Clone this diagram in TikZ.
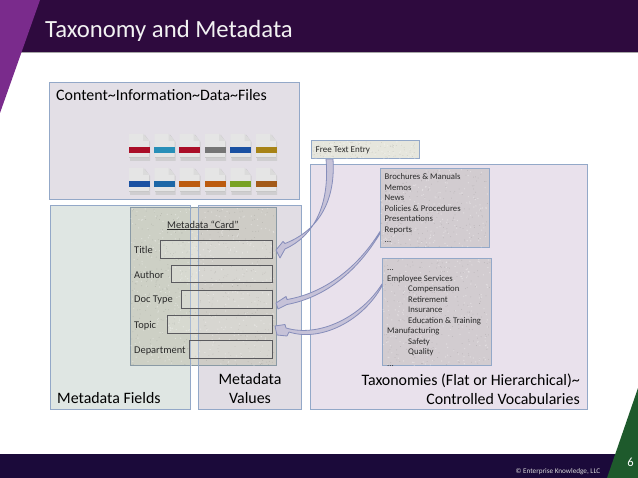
\documentclass[tikz,border=0pt]{standalone}
\usepackage{fontspec}
\setmainfont{Carlito}
\usetikzlibrary{calc}
\definecolor{barpurple}{HTML}{2E0A3E}
\definecolor{wedgepurple}{HTML}{7A2B8C}
\definecolor{barnavy}{HTML}{1B0A3A}
\definecolor{wedgegreen}{HTML}{1E5A2C}
\definecolor{edgeblue}{HTML}{93A8C8}
\definecolor{contentfill}{HTML}{E3DFE6}
\definecolor{fieldsfill}{HTML}{DFE6E3}
\definecolor{valuesfill}{HTML}{E1DDE4}
\definecolor{taxfill}{HTML}{E9E1EC}
\definecolor{cardfill}{HTML}{C2C2B2}
\definecolor{cardedge}{HTML}{8A9AA5}
\definecolor{greyfill}{HTML}{D2CCD0}
\definecolor{freefill}{HTML}{E6E6DD}
\definecolor{inputedge}{HTML}{5A5A5E}
\definecolor{arrowedge}{HTML}{868DBA}
\definecolor{arrowfill}{HTML}{C6C2D8}
\definecolor{inktext}{HTML}{2A2A2A}
\tikzset{
  panel/.style={draw=edgeblue,line width=1pt,anchor=north west,inner sep=0pt,outer sep=0pt},
  inputbox/.style={draw=inputedge,line width=1pt,fill=white,fill opacity=0.2,anchor=north west,inner sep=0pt,outer sep=0pt},
  biglabel/.style={font=\fontsize{15.9}{19}\selectfont,text=black,inner sep=0pt},
  cardlabel/.style={font=\fontsize{10.4}{12}\selectfont,text=inktext,anchor=west,inner sep=0pt},
  listtext/.style={font=\fontsize{8.7}{10.5}\selectfont,text=inktext,align=left,anchor=north west,inner sep=0pt},
  swoosh/.style={draw=arrowedge,line width=0.8pt,fill=arrowfill,line join=round}
}
\newcommand{\speckle}[5]{%
  \pgfmathsetseed{#5}%
  \foreach \i in {1,...,#4}{%
    \pgfmathsetmacro{\px}{#1+rnd*(#2-#1)}%
    \pgfmathsetmacro{\py}{#3}%
    \fill[white,opacity=0.32] (\px,\py) circle (0.7pt);
    \pgfmathsetmacro{\qx}{#1+rnd*(#2-#1)}%
    \pgfmathsetmacro{\qy}{#3}%
    \fill[black,opacity=0.1] (\qx,\qy) circle (0.5pt);
  }%
}
\newcommand{\fileicon}[3]{%
  \definecolor{filecol}{HTML}{#3}%
  \fill[black!22,opacity=0.7] ({#1+1},{#2+1}) -- ++(15,0) -- ++(5,7) -- ++(0,19) -- ++(-20,0) -- cycle;
  \fill[white!90!black] (#1,#2) -- ++(14,0) -- ++(6,7) -- ++(0,17) -- ++(-20,0) -- cycle;
  \fill[black!14] ({#1+14},#2) -- ++(0,7) -- ++(6,0) -- cycle;
  \fill[filecol!85!black] ({#1-0.5},{#2+13}) rectangle ({#1+20.5},{#2+19.5});
  \fill[black!22] (#1,{#2+23}) rectangle ({#1+20},{#2+24.5});
}
\begin{document}
\begin{tikzpicture}[x=1pt,y=-1pt]
\useasboundingbox (0,0) rectangle (638,478);
\fill[white] (0,0) rectangle (638,478);
% header
\fill[black!35] (20,52) rectangle (638,53.5);
\fill[barpurple] (0,0) rectangle (638,52);
\fill[wedgepurple] (0,0) -- (40,0) -- (0,113) -- cycle;
\node[font=\fontsize{24.7}{28}\selectfont,text=white!95!black,anchor=west,inner sep=0pt] (title) at (45,30.5) {Taxonomy and Metadata};
% footer
\fill[barnavy] (0,454) rectangle (638,478);
\fill[wedgegreen] (638,388) -- (638,478) -- (607,478) -- cycle;
\node[font=\fontsize{7.2}{8}\selectfont,text=white!85!black,anchor=east,inner sep=0pt] (copy) at (600.5,472) {© Enterprise Knowledge, LLC};
\node[font=\fontsize{12.5}{14}\selectfont,text=white,inner sep=0pt] (pageno) at (630.5,462) {6};
% panels
\node[panel,fill=contentfill,minimum width=250pt,minimum height=117pt] (content) at (49.5,83) {};
\node[biglabel,anchor=west] (contentlabel) at (56,95.5) {Content\char`\~Information\char`\~Data\char`\~Files};
\foreach \x/\c in {129/C8102E,154.5/2FA8D8,179.5/C8102E,205/8A8A8A,230.5/1F5FBF,256/C49A1A}{\fileicon{\x}{134}{\c}}
\foreach \x/\c in {129/1F5FBF,154.5/2279C4,179.5/DD6B12,205/DD6B12,230.5/8DBF2A,256/C06A1E}{\fileicon{\x}{168}{\c}}
\node[panel,fill=fieldsfill,minimum width=140pt,minimum height=204pt] (fields) at (50,206) {};
\node[panel,fill=valuesfill,minimum width=103pt,minimum height=204pt] (values) at (198,206) {};
\node[panel,fill=taxfill,minimum width=277pt,minimum height=245pt] (tax) at (310,165) {};
% card
\node[panel,draw=cardedge,fill=cardfill,fill opacity=0.6,minimum width=146pt,minimum height=158pt] (card) at (130,208) {};
\speckle{131}{275}{208.5+rnd*157}{420}{11}
\draw[edgeblue,line width=0.9pt] (fields.north east) -- (fields.south east);
\draw[edgeblue,line width=0.9pt] (values.north west) -- (values.south west);
\node[font=\fontsize{10.4}{12}\selectfont,text=inktext,inner sep=0pt] (cardtitle) at (203,225.5) {\underline{Metadata “Card”}};
\node[cardlabel] (ltitle) at (134,250) {Title};
\node[cardlabel] (lauthor) at (134,275) {Author};
\node[cardlabel] (ldoc) at (134,300) {Doc Type};
\node[cardlabel] (ltopic) at (134,325.5) {Topic};
\node[cardlabel] (ldept) at (134,351) {Department};
\node[inputbox,minimum width=112pt,minimum height=17.5pt] (ititle) at (160,241) {};
\node[inputbox,minimum width=101pt,minimum height=17.5pt] (iauthor) at (171,265.5) {};
\node[inputbox,minimum width=90.5pt,minimum height=17.5pt] (idoc) at (181.5,291) {};
\node[inputbox,minimum width=105pt,minimum height=17.5pt] (itopic) at (167,316) {};
\node[inputbox,minimum width=83pt,minimum height=17.5pt] (idept) at (189,341) {};
% panel labels
\node[biglabel,anchor=west] (fieldslabel) at (57,398) {Metadata Fields};
\node[biglabel,align=center,anchor=center] (valueslabel) at (250,389) {Metadata\\Values};
\node[biglabel,align=right,anchor=east] (taxlabel) at (580,389) {Taxonomies (Flat or Hierarchical)\char`\~\\Controlled Vocabularies};
% term boxes
\node[panel,fill=greyfill,minimum width=109pt,minimum height=79pt] (brochures) at (380,169) {};
\speckle{381}{488}{169.5+rnd*78}{190}{23}
\node[listtext] (brochurestext) at (384.5,173.5) {Brochures \& Manuals\\Memos\\News\\Policies \& Procedures\\Presentations\\Reports\\...};
\node[panel,fill=greyfill,minimum width=109pt,minimum height=107pt] (employee) at (382,259) {};
\speckle{383}{490}{259.5+rnd*106}{240}{37}
\node[listtext] (employeetext) at (387,269.5) {...\\Employee Services\\\hspace*{21pt}Compensation\\\hspace*{21pt}Retirement\\\hspace*{21pt}Insurance\\\hspace*{21pt}Education \& Training\\Manufacturing\\\hspace*{21pt}Safety\\\hspace*{21pt}Quality\\[1pt]...};
% connectors
\draw[swoosh] (333,159) .. controls (336,205) and (315,232) .. (285,243.5) -- (283,241.5) -- (276,250) -- (280,258) -- (285,249) .. controls (314,236) and (330,205) .. (326,159) -- cycle;
\draw[swoosh] ($(brochures.west)+(0,23)$) .. controls (355,272) and (320,294) .. (287,299.5) -- (286,296.5) -- (276,303) -- (278,309) -- (287,304.5) .. controls (322,298) and (355,275) .. ($(brochures.west)+(0,25)$) -- cycle;
\draw[swoosh] ($(employee.west)+(0,-26.5)$) .. controls (362,322) and (320,342) .. (289,332) -- (287,336) -- (277,335) -- (275,326) -- (285,324.5) -- (286,328) .. controls (320,338) and (362,316) .. ($(employee.west)+(0,-28.5)$) -- cycle;
% free text entry
\node[panel,fill=freefill,minimum width=108pt,minimum height=18pt] (free) at (311,141) {};
\speckle{312}{418}{141.5+rnd*17}{90}{41}
\node[font=\fontsize{9}{10}\selectfont,text=inktext,anchor=west,inner sep=0pt] (freetext) at ($(free.west)+(4.5,0)$) {Free Text Entry};
\end{tikzpicture}
\end{document}
